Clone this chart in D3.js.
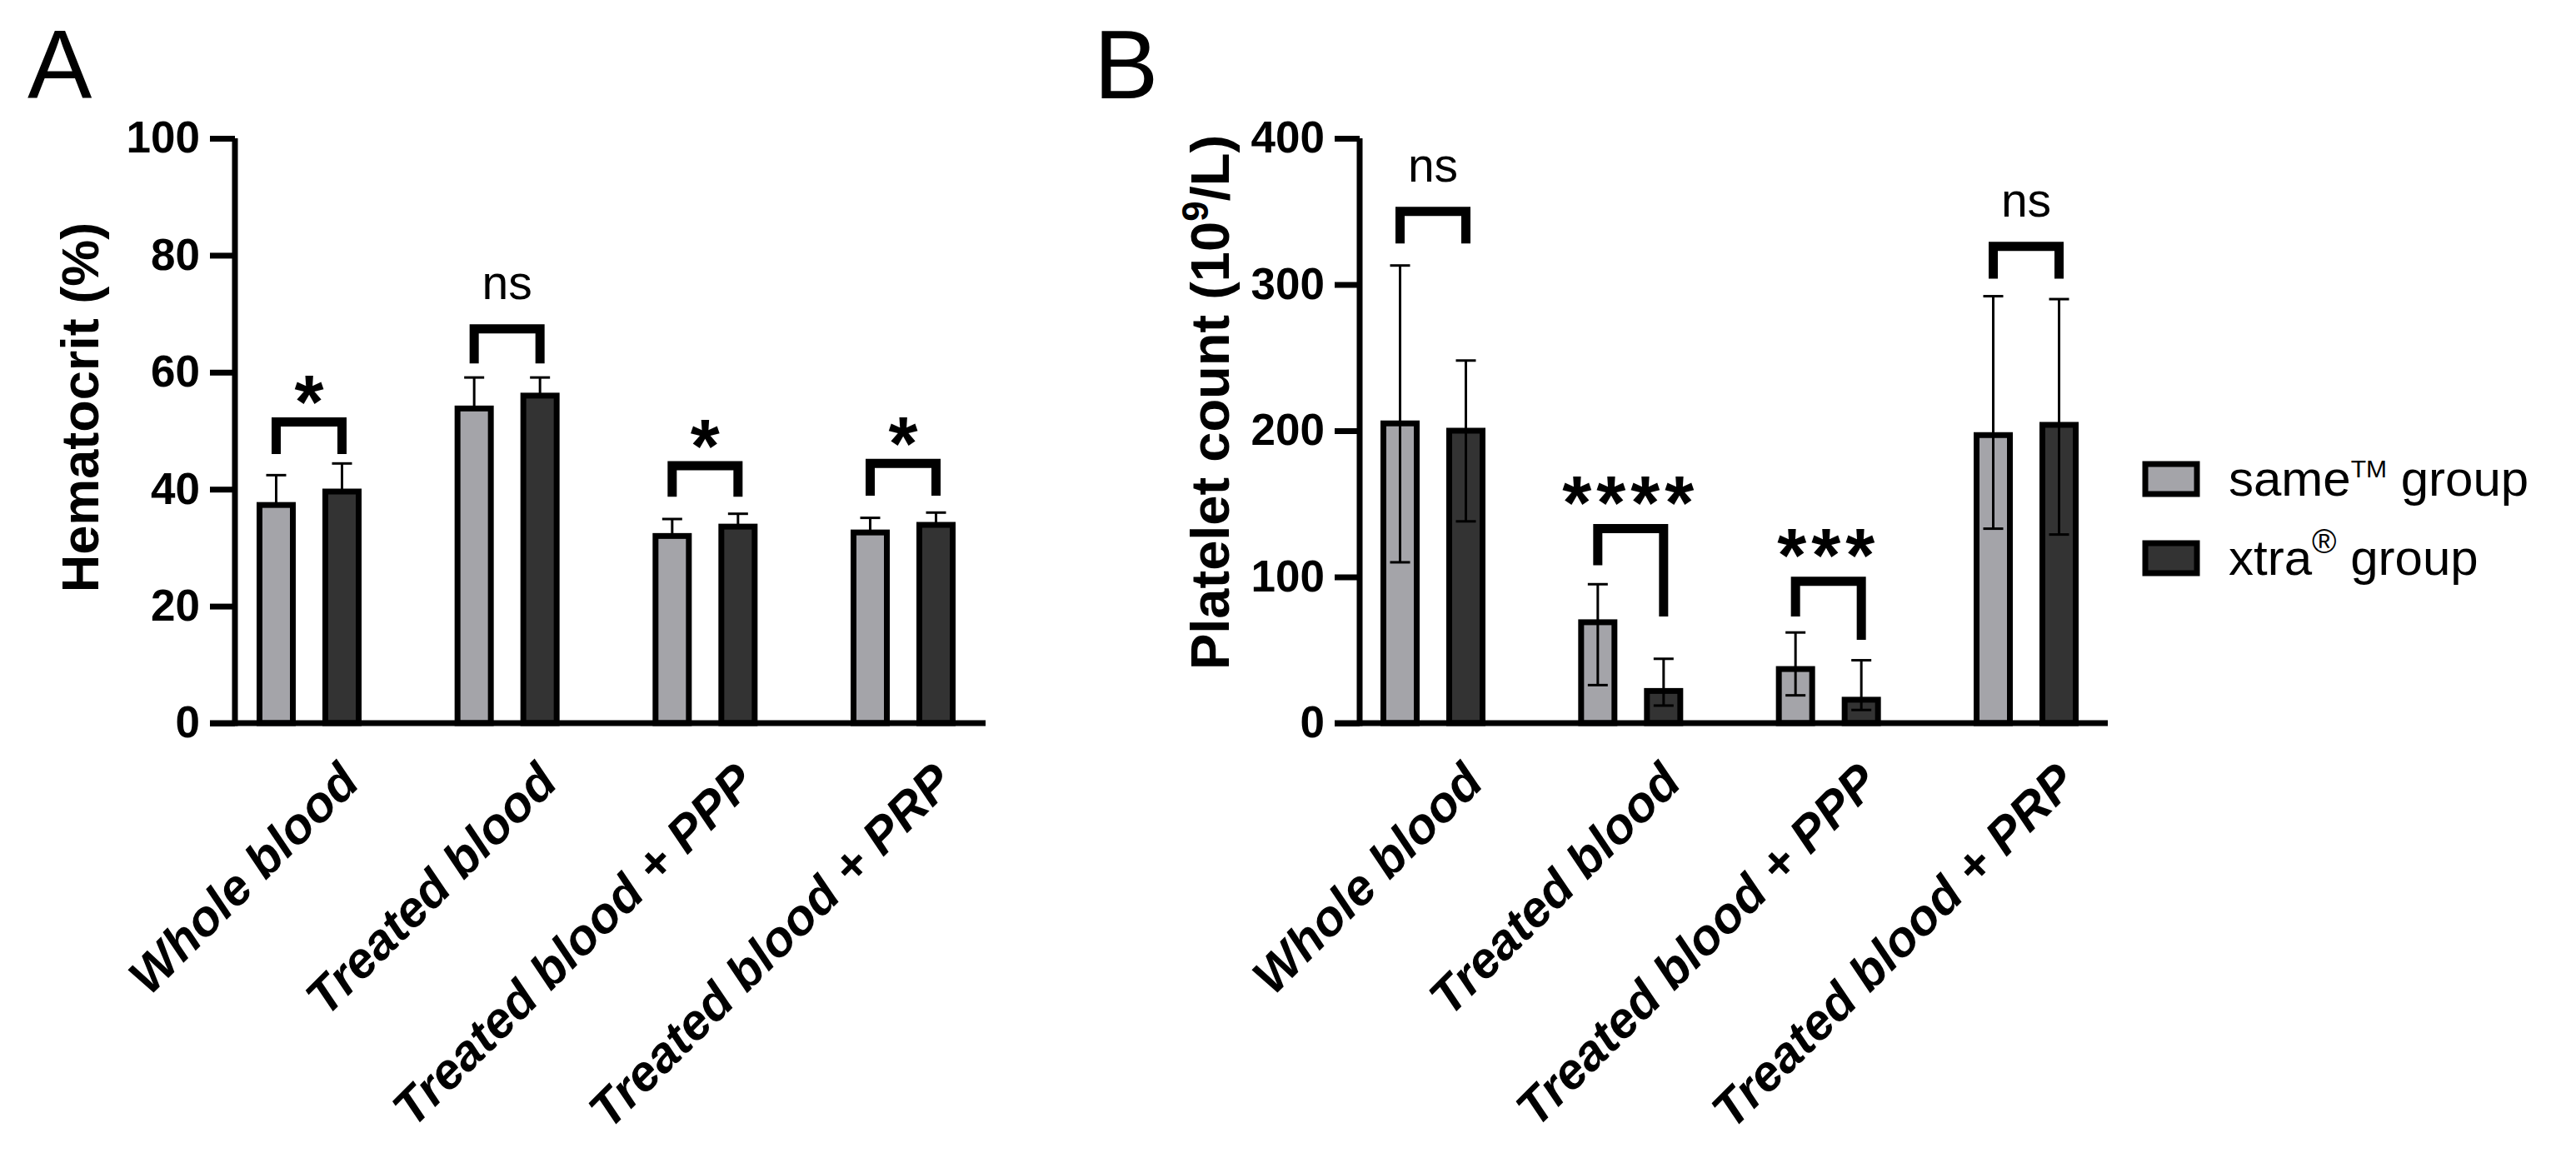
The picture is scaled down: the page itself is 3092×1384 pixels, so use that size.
<!DOCTYPE html>
<html>
<head>
<meta charset="utf-8">
<script src="https://cdn.jsdelivr.net/npm/d3@7"></script>
<style>
  html, body { margin: 0; padding: 0; background: #fff; }
  svg { display: block; font-family: "Liberation Sans", Arial, sans-serif; }
</style>
</head>
<body>
<div id="container"></div>
<script>
// datos
const categories = ["Whole blood", "Treated blood", "Treated blood + PPP", "Treated blood + PRP"];
const groupKeys = ["same", "xtra"];

// A: hematocrito (%), barra + error hacia arriba
const hctSame = [37.3, 53.8, 32.0, 32.6];
const hctXtra = [39.6, 56.0, 33.6, 33.9];
const hctSameHi = [42.4, 59.1, 34.9, 35.1];
const hctXtraHi = [44.4, 59.1, 35.8, 36.0];
const hctTicks = [0, 20, 40, 60, 80, 100];
const hctSig = ["*", "ns", "*", "*"];
const hctBracketTop = [51.5, 67.4, 44.0, 44.4];
const hctLegLeft = [46.0, 61.5, 38.7, 38.9];
const hctLegRight = [46.0, 61.5, 38.7, 38.9];
const hctSigY = [57.7, 74.6, 50.1, 50.6];

// B: plaquetas (10^9/L), barra + error abajo y arriba
const pltSame = [205, 69, 37, 197];
const pltXtra = [200, 22, 16, 204];
const pltSameLo = [110, 26, 19, 133];
const pltSameHi = [313, 95, 62, 292];
const pltXtraLo = [138, 12, 9, 129];
const pltXtraHi = [248, 44, 43, 290];
const pltTicks = [0, 100, 200, 300, 400];
const pltSig = ["ns", "****", "***", "ns"];
const pltBracketTop = [350, 133, 97, 326];
const pltLegLeft = [328, 108, 73, 304];
const pltLegRight = [328, 73, 57, 304];
const pltSigY = [379, 162, 126, 355];

const colors = { same: "#a4a4a9", xtra: "#333333" };

const WIDTH = 3092, HEIGHT = 1384;

const svg = d3.select("#container").append("svg")
    .attr("width", WIDTH).attr("height", HEIGHT);

const drawPanel = (p) => {
    const g = svg.append("g");

    const x = d3.scalePoint().domain(categories).range([p.firstX, p.lastX]);
    const y = d3.scaleLinear().domain([0, p.max]).range([868, 166]);
    const off = { same: -39.5, xtra: 39.5 };
    const barW = 40;

    const rows = categories.map((c, i) => ({
        cat: c,
        same: p.same[i], xtra: p.xtra[i],
        sameLo: p.sameLo ? p.sameLo[i] : p.same[i], sameHi: p.sameHi[i],
        xtraLo: p.xtraLo ? p.xtraLo[i] : p.xtra[i], xtraHi: p.xtraHi[i],
        sig: p.sig[i], top: p.top[i], legL: p.legL[i], legR: p.legR[i], sigY: p.sigY[i]
    }));

    // barras
    groupKeys.forEach(k => {
        g.selectAll(null).data(rows).join("rect")
            .attr("x", d => x(d.cat) + off[k] - barW / 2)
            .attr("width", barW)
            .attr("y", d => y(d[k]))
            .attr("height", d => y(0) - y(d[k]))
            .attr("fill", colors[k])
            .attr("stroke", "#000")
            .attr("stroke-width", 7);
    });

    // barras de error
    groupKeys.forEach(k => {
        const eb = g.selectAll(null).data(rows).join("g")
            .attr("transform", d => `translate(${x(d.cat) + off[k]},0)`);
        eb.append("line")
            .attr("y1", d => y(d[k + "Lo"])).attr("y2", d => y(d[k + "Hi"]))
            .attr("stroke", "#000").attr("stroke-width", 3);
        eb.append("line")
            .attr("x1", -12).attr("x2", 12)
            .attr("y1", d => y(d[k + "Hi"])).attr("y2", d => y(d[k + "Hi"]))
            .attr("stroke", "#000").attr("stroke-width", 3);
        if (p.sameLo) {
            eb.append("line")
                .attr("x1", -12).attr("x2", 12)
                .attr("y1", d => y(d[k + "Lo"])).attr("y2", d => y(d[k + "Lo"]))
                .attr("stroke", "#000").attr("stroke-width", 3);
        }
    });

    // ejes
    const yAxis = d3.axisLeft(y).tickValues(p.ticks).tickSize(30).tickSizeOuter(0).tickPadding(12);
    const ya = g.append("g").attr("transform", `translate(${p.axisX},0)`).call(yAxis);
    ya.select(".domain").attr("stroke-width", 7).attr("d", `M0,${y(0) + 3.5}V${y(p.max)}`);
    ya.selectAll(".tick line").attr("stroke-width", 7);
    ya.selectAll(".tick text")
        .attr("font-family", "Liberation Sans, Arial, sans-serif")
        .attr("font-size", 53).attr("font-weight", "bold").attr("fill", "#000");

    g.append("line")
        .attr("x1", p.axisX - 30).attr("x2", p.axisEnd)
        .attr("y1", y(0)).attr("y2", y(0))
        .attr("stroke", "#000").attr("stroke-width", 7);

    // etiquetas del eje x
    g.selectAll(null).data(categories).join("text")
        .attr("transform", d => `translate(${x(d) + 63},942) rotate(-45)`)
        .attr("text-anchor", "end")
        .attr("font-size", 60).attr("font-weight", "bold").attr("font-style", "italic")
        .text(d => d);

    // titulo del eje y
    const title = g.append("text")
        .attr("transform", `translate(${p.titleX},${p.titleY}) rotate(-90)`)
        .attr("text-anchor", "middle")
        .attr("font-size", p.titleSize).attr("font-weight", "bold");
    p.title.forEach(t => {
        const ts = title.append("tspan").text(t.s);
        if (t.sup) ts.attr("font-size", 44).attr("dy", -25);
        if (t.down) ts.attr("dy", 25);
    });

    // corchetes de significancia
    g.selectAll(null).data(rows).join("path")
        .attr("d", d => {
            const xl = x(d.cat) + off.same, xr = x(d.cat) + off.xtra;
            return `M${xl},${y(d.legL)}V${y(d.top)}H${xr}V${y(d.legR)}`;
        })
        .attr("fill", "none").attr("stroke", "#000").attr("stroke-width", 11)
        .attr("stroke-linejoin", "miter");

    g.selectAll(null).data(rows).join("text")
        .attr("x", d => x(d.cat))
        .attr("y", d => d.sig === "ns" ? y(d.sigY) + 15 : y(d.sigY) + 51)
        .attr("text-anchor", "middle")
        .attr("font-size", d => d.sig === "ns" ? 57 : 90)
        .attr("font-weight", d => d.sig === "ns" ? "normal" : "bold")
        .attr("letter-spacing", d => d.sig.length > 1 && d.sig !== "ns" ? 6 : 0)
        .text(d => d.sig);

    // letra del panel
    g.append("text").attr("x", p.letterX).attr("y", 118)
        .attr("font-size", 116).text(p.letter);
};

drawPanel({
    letter: "A", letterX: 33,
    same: hctSame, xtra: hctXtra, sameHi: hctSameHi, xtraHi: hctXtraHi,
    max: 100, ticks: hctTicks,
    sig: hctSig, top: hctBracketTop, legL: hctLegLeft, legR: hctLegRight, sigY: hctSigY,
    firstX: 371, lastX: 1084, axisX: 282, axisEnd: 1183,
    titleX: 118, titleY: 489, titleSize: 63,
    title: [{ s: "Hematocrit (%)" }]
});

drawPanel({
    letter: "B", letterX: 1313,
    same: pltSame, xtra: pltXtra, sameLo: pltSameLo, sameHi: pltSameHi, xtraLo: pltXtraLo, xtraHi: pltXtraHi,
    max: 400, ticks: pltTicks,
    sig: pltSig, top: pltBracketTop, legL: pltLegLeft, legR: pltLegRight, sigY: pltSigY,
    firstX: 1720, lastX: 2432, axisX: 1632, axisEnd: 2530,
    titleX: 1475, titleY: 483, titleSize: 65,
    title: [{ s: "Platelet count (10" }, { s: "9", sup: true }, { s: "/L)", down: true }]
});

// leyenda
const legendItems = [
    { key: "same", name: "same", mark: "TM" },
    { key: "xtra", name: "xtra", mark: "®" }
];
const legend = svg.append("g").attr("transform", "translate(2575,557)");
const li = legend.selectAll("g").data(legendItems).join("g")
    .attr("transform", (d, i) => `translate(0,${i * 95})`);
li.append("rect").attr("width", 62).attr("height", 36)
    .attr("fill", d => colors[d.key]).attr("stroke", "#000").attr("stroke-width", 7);
const lt = li.append("text").attr("x", 100).attr("y", 38).attr("font-size", 60);
lt.append("tspan").text(d => d.name);
lt.append("tspan").attr("font-size", d => d.mark === "TM" ? 30 : 40).attr("dy", d => d.mark === "TM" ? -22 : -26)
    .text(d => d.mark);
lt.append("tspan").attr("dy", d => d.mark === "TM" ? 22 : 26).text(" group");
</script>
</body>
</html>
